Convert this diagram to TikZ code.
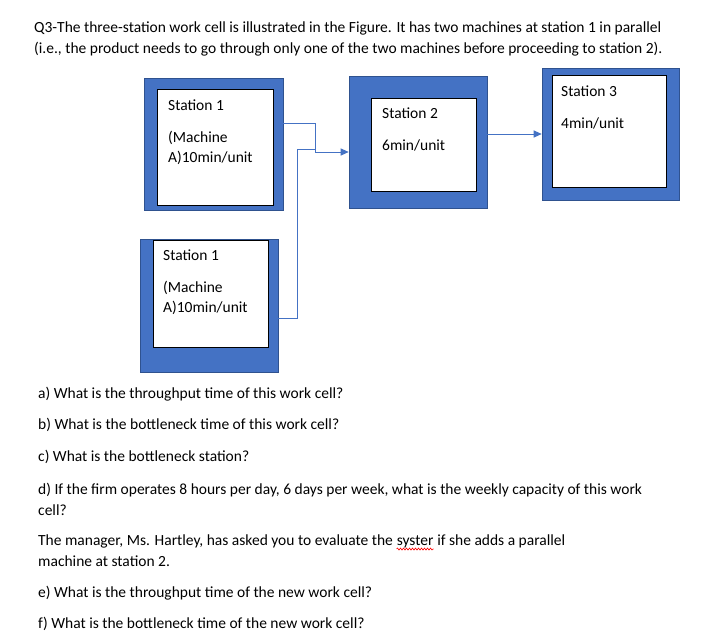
\documentclass[tikz,border=0pt]{standalone}
\usepackage{fontspec}
\setmainfont{Carlito}
\usetikzlibrary{arrows.meta,decorations.pathmorphing}
\definecolor{offblue}{HTML}{4472C4}
\definecolor{offedge}{HTML}{2F528F}
\definecolor{lineblue}{HTML}{4472C4}
\begin{document}
\begin{tikzpicture}[x=1pt,y=-1pt,
  txt/.style={anchor=base west,inner sep=0pt,font=\fontsize{15.5}{20}\selectfont},
  outerbox/.style={draw=offedge,line width=0.6pt,fill=offblue},
  innerbox/.style={draw=black,line width=1pt,fill=white},
  conn/.style={draw=lineblue,line width=1pt},
  arr/.style={conn,-{Triangle[length=8pt,width=7pt]}}]
\useasboundingbox[fill=white] (0,0) rectangle (727,643);
% boxes
\node[outerbox,inner sep=0pt,minimum width=139pt,minimum height=132pt] (s1a) at (213.5,144) {};
\node[innerbox,inner sep=0pt,minimum width=116pt,minimum height=116pt] (i1a) at (215,147) {};
\node[outerbox,inner sep=0pt,minimum width=138pt,minimum height=132pt] (s2) at (418,142) {};
\node[innerbox,inner sep=0pt,minimum width=105pt,minimum height=93pt] (i2) at (423.5,144.5) {};
\node[outerbox,inner sep=0pt,minimum width=137pt,minimum height=132pt] (s3) at (610.5,134) {};
\node[innerbox,inner sep=0pt,minimum width=114pt,minimum height=112pt] (i3) at (609,131) {};
\node[outerbox,inner sep=0pt,minimum width=138pt,minimum height=133pt] (s1b) at (209,305.5) {};
\node[innerbox,inner sep=0pt,minimum width=115pt,minimum height=107pt] (i1b) at (210.5,293.5) {};
% box texts
\node[txt] (t1a) at (168,110) {Station 1};
\node[txt] (t1b) at (168,142) {(Machine};
\node[txt] (t1c) at (168,162) {A)10min/unit};
\node[txt] (t2a) at (382,118) {Station 2};
\node[txt] (t2b) at (382,150) {6min/unit};
\node[txt] (t3a) at (561,96) {Station 3};
\node[txt] (t3b) at (561,128) {4min/unit};
\node[txt] (t4a) at (163,260) {Station 1};
\node[txt] (t4b) at (163,292) {(Machine};
\node[txt] (t4c) at (163,312) {A)10min/unit};
% connectors
\coordinate (k1) at (315,123);
\coordinate (k2) at (315,152);
\coordinate (k3) at (297,149);
\coordinate (k4) at (297,318);
\coordinate (k5) at (315,149);
\coordinate (k6) at (500,134);
\draw[conn] (s1a.east |- k1) -- (k1) -- (k2);
\draw[arr] (k2) -- (s2.west |- k2);
\draw[conn] (s1b.east |- k4) -- (k4) -- (k3) -- (k5);
\draw[arr] (s2.east |- k6) -- (s3.west |- k6);
% text
\node[txt] (q1) at (34,32) {Q3-The three-station work cell is illustrated in the Figure. It has two machines at station 1 in parallel};
\node[txt] (q2) at (34,53) {(i.e., the product needs to go through only one of the two machines before proceeding to station 2).};
\node[txt] (qa) at (38,398) {a) What is the throughput time of this work cell?};
\node[txt] (qb) at (38,429) {b) What is the bottleneck time of this work cell?};
\node[txt] (qc) at (38,461) {c) What is the bottleneck station?};
\node[txt] (qd1) at (38,494) {d) If the firm operates 8 hours per day, 6 days per week, what is the weekly capacity of this work};
\node[txt] (qd2) at (38,515) {cell?};
\node[txt] (m1) at (38,545) {The manager, Ms. Hartley, has asked you to evaluate the};
\node[txt,xshift=3.5pt] (sy) at (m1.base east) {syster};
\node[txt,xshift=3.5pt] (m3) at (sy.base east) {if she adds a parallel};
\draw[red,line width=0.6pt,decorate,decoration={snake,amplitude=1pt,segment length=3pt}] ([yshift=-4pt]sy.base west) -- ([yshift=-4pt]sy.base east);
\node[txt] (m2) at (38,566) {machine at station 2.};
\node[txt] (qe) at (38,597) {e) What is the throughput time of the new work cell?};
\node[txt] (qf) at (38,628) {f) What is the bottleneck time of the new work cell?};
\end{tikzpicture}
\end{document}
